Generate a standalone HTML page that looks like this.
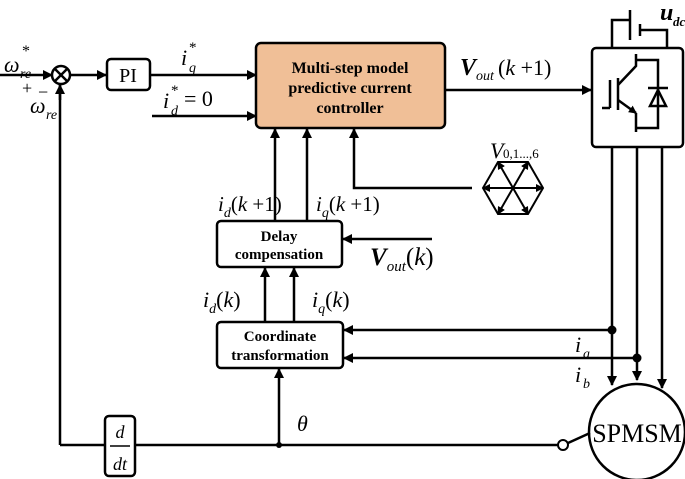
<!DOCTYPE html>
<html><head><meta charset="utf-8"><style>
html,body{margin:0;padding:0;background:#fff;}
svg{display:block;}
.it{font-family:"Liberation Serif",serif;font-style:italic;}
.b{font-family:"Liberation Serif",serif;font-weight:bold;}
</style></head><body>
<svg width="685" height="479" viewBox="0 0 685 479" xmlns="http://www.w3.org/2000/svg">
<defs>
<marker id="a" markerWidth="10" markerHeight="10" refX="9" refY="5" orient="auto" markerUnits="userSpaceOnUse">
<path d="M0,0 L10,5 L0,10 z" fill="#000"/></marker>
<marker id="s" markerWidth="8" markerHeight="8" refX="7" refY="4" orient="auto" markerUnits="userSpaceOnUse">
<path d="M0,0 L8,4 L0,8 z" fill="#000"/></marker>
</defs>
<g stroke="#000" stroke-width="2.5" fill="none">
<line x1="0" y1="75" x2="52" y2="75" marker-end="url(#a)"/>
<circle cx="61" cy="75" r="9" fill="#fff"/>
<line x1="55" y1="69" x2="67" y2="81"/><line x1="67" y1="69" x2="55" y2="81"/>
<line x1="70" y1="75" x2="106" y2="75" marker-end="url(#a)"/>
<rect x="107" y="59" width="43" height="31" rx="4" fill="#fff"/>
<line x1="150" y1="75" x2="256" y2="75" marker-end="url(#a)"/>
<line x1="152" y1="116" x2="256" y2="116" marker-end="url(#a)"/>
<polyline points="60,445 60,85"/>
<line x1="60" y1="100" x2="60" y2="85" marker-end="url(#a)"/>
<rect x="256" y="43" width="189" height="85" rx="5" fill="#f0bf97"/>
<line x1="445" y1="90" x2="591" y2="90" marker-end="url(#a)"/>
<rect x="592" y="48" width="91" height="99" rx="4" fill="#fff"/>
<polyline points="612,48 612,20 630,20"/>
<line x1="630" y1="10" x2="630" y2="40"/>
<line x1="640" y1="24" x2="640" y2="36"/>
<polyline points="640,30 667,30 667,48"/>
<line x1="610" y1="80" x2="610" y2="108"/>
<line x1="602" y1="108" x2="610" y2="108"/>
<line x1="618" y1="78" x2="618" y2="110"/>
<polyline points="636,54 636,66 618,85"/>
<line x1="618" y1="100" x2="636" y2="113" marker-end="url(#s)"/>
<polyline points="636,113 636,132"/>
<polyline points="636,60 658,60 658,128 636,128"/>
<line x1="648" y1="88" x2="668" y2="88"/>
<path d="M650,106 L666,106 L658,90 z"/>
<line x1="612" y1="147" x2="612" y2="385" marker-end="url(#a)"/>
<line x1="637" y1="147" x2="637" y2="380" marker-end="url(#a)"/>
<line x1="662" y1="147" x2="662" y2="388" marker-end="url(#a)"/>
<circle cx="637" cy="432" r="48" fill="#fff"/>
<line x1="612" y1="330" x2="344" y2="330" marker-end="url(#a)"/>
<line x1="637" y1="358" x2="344" y2="358" marker-end="url(#a)"/>
<rect x="217" y="221" width="125" height="46" rx="4" fill="#fff"/>
<rect x="217" y="322" width="126" height="46" rx="4" fill="#fff"/>
<line x1="265" y1="322" x2="265" y2="268" marker-end="url(#a)"/>
<line x1="294" y1="322" x2="294" y2="268" marker-end="url(#a)"/>
<line x1="275" y1="221" x2="275" y2="129" marker-end="url(#a)"/>
<line x1="307" y1="221" x2="307" y2="129" marker-end="url(#a)"/>
<polyline points="472,188 354,188 354,129" marker-end="url(#a)"/>
<line x1="432" y1="239" x2="343" y2="239" marker-end="url(#a)"/>
<line x1="60" y1="445" x2="558" y2="445"/>
<line x1="279" y1="445" x2="279" y2="369" marker-end="url(#a)"/>
<rect x="105" y="416" width="30" height="60" rx="4" fill="#fff"/>
<line x1="110" y1="446" x2="130" y2="446" stroke-width="1.5"/>
<circle cx="563" cy="445" r="5" fill="#fff" stroke-width="2"/>
<line x1="568" y1="443" x2="590" y2="433"/>
</g>
<g stroke="#000" stroke-width="2" fill="none">
<polygon points="483,188 498,162 528,162 543,188 528,214 498,214"/>
<line x1="513" y1="188" x2="483" y2="188" marker-end="url(#s)"/>
<line x1="513" y1="188" x2="543" y2="188" marker-end="url(#s)"/>
<line x1="513" y1="188" x2="498" y2="162" marker-end="url(#s)"/>
<line x1="513" y1="188" x2="528" y2="162" marker-end="url(#s)"/>
<line x1="513" y1="188" x2="498" y2="214" marker-end="url(#s)"/>
<line x1="513" y1="188" x2="528" y2="214" marker-end="url(#s)"/>
</g>
<g fill="#000">
<circle cx="612" cy="330" r="4.5"/><circle cx="637" cy="358" r="4.5"/><circle cx="279" cy="445" r="3"/>
</g>
<text x="4" y="72" class="it" font-size="22">ω</text><text x="20" y="78" class="it" font-size="14">re</text><text x="22" y="56" font-family="Liberation Serif" font-size="16">*</text>
<text x="22" y="94" font-family="Liberation Serif" font-size="18">+</text><text x="38" y="98" font-family="Liberation Serif" font-size="18">−</text>
<text x="30" y="113" class="it" font-size="22">ω</text><text x="46" y="119" class="it" font-size="14">re</text>
<text x="128" y="82" text-anchor="middle" font-family="Liberation Serif" font-size="20">PI</text>
<text x="181" y="65" class="it" font-size="22">i</text><text x="189" y="72" class="it" font-size="14">q</text><text x="189" y="52" font-family="Liberation Serif" font-size="15">*</text>
<text x="163" y="108" class="it" font-size="22">i</text><text x="171" y="115" class="it" font-size="14">d</text><text x="171" y="95" font-family="Liberation Serif" font-size="15">*</text><text x="184" y="106" font-family="Liberation Serif" font-size="22">= 0</text>
<text x="350" y="73" text-anchor="middle" class="b" font-size="16">Multi-step model</text>
<text x="350" y="93" text-anchor="middle" class="b" font-size="16">predictive current</text>
<text x="350" y="113" text-anchor="middle" class="b" font-size="16">controller</text>
<text x="460" y="75" class="it" font-size="24" font-weight="bold">V</text><text x="476" y="80" class="it" font-size="14">out</text><text x="498" y="75" font-family="Liberation Serif" font-size="22"><tspan font-style="normal">(</tspan><tspan font-style="italic">k</tspan> +1)</text>
<text x="660" y="20" class="it" font-size="24" font-weight="bold">u</text><text x="673" y="26" class="it" font-size="13" font-weight="bold">dc</text>
<text x="490" y="158" class="it" font-size="22">V</text><text x="503" y="158" font-family="Liberation Serif" font-size="13">0,1...,6</text>
<text x="218" y="211" font-family="Liberation Serif" font-size="21"><tspan font-style="italic">i</tspan><tspan font-style="italic" font-size="14" dy="6">d</tspan><tspan dy="-6">(</tspan><tspan font-style="italic">k</tspan> +1)</text>
<text x="316" y="211" font-family="Liberation Serif" font-size="21"><tspan font-style="italic">i</tspan><tspan font-style="italic" font-size="14" dy="6">q</tspan><tspan dy="-6">(</tspan><tspan font-style="italic">k</tspan> +1)</text>
<text x="279" y="241" text-anchor="middle" class="b" font-size="15">Delay</text>
<text x="279" y="259" text-anchor="middle" class="b" font-size="15">compensation</text>
<text x="370" y="265" font-family="Liberation Serif" font-size="25"><tspan font-style="italic" font-weight="bold">V</tspan><tspan font-style="italic" font-size="15" dy="6">out</tspan><tspan dy="-6">(</tspan><tspan font-style="italic">k</tspan>)</text>
<text x="203" y="307" font-family="Liberation Serif" font-size="22"><tspan font-style="italic">i</tspan><tspan font-style="italic" font-size="14" dy="6">d</tspan><tspan dy="-6">(</tspan><tspan font-style="italic">k</tspan>)</text>
<text x="312" y="307" font-family="Liberation Serif" font-size="22"><tspan font-style="italic">i</tspan><tspan font-style="italic" font-size="14" dy="6">q</tspan><tspan dy="-6">(</tspan><tspan font-style="italic">k</tspan>)</text>
<text x="280" y="341" text-anchor="middle" class="b" font-size="15">Coordinate</text>
<text x="280" y="360" text-anchor="middle" class="b" font-size="15">transformation</text>
<text x="575" y="352" class="it" font-size="22">i</text><text x="583" y="358" class="it" font-size="14">a</text>
<text x="575" y="382" class="it" font-size="22">i</text><text x="583" y="388" class="it" font-size="14">b</text>
<text x="297" y="431" class="it" font-size="22">θ</text>
<text x="120" y="438" text-anchor="middle" class="it" font-size="18">d</text>
<text x="120" y="470" text-anchor="middle" class="it" font-size="18">dt</text>
<text x="637" y="442" text-anchor="middle" font-family="Liberation Serif" font-size="26">SPMSM</text>
</svg>
</body></html>
